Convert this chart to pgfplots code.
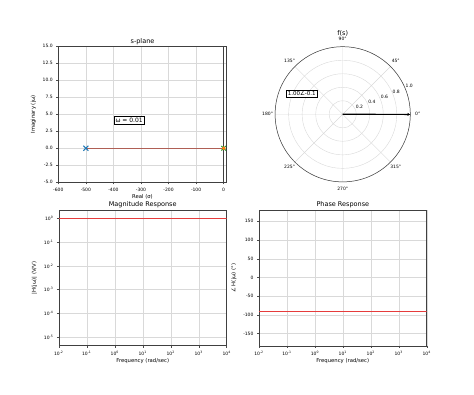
\documentclass[border=0pt]{standalone}
\usepackage{fontspec}
\setmainfont{DejaVu Sans}
\usepackage{pgfplots}
\pgfplotsset{compat=1.18}
\usepgfplotslibrary{polar}
\usetikzlibrary{arrows.meta}

\definecolor{tabblue}{HTML}{1F77B4}
\definecolor{taborange}{HTML}{FF7F0E}
\definecolor{tabgreen}{HTML}{2CA02C}
\definecolor{pzline}{RGB}{175,95,85}
\definecolor{hred}{RGB}{230,60,60}

\pgfplotsset{
  common/.style={
    scale only axis, anchor=south west,
    /pgf/number format/assume math mode=true,
    tick label style={font=\fontsize{4.5}{5}\selectfont},
    label style={font=\fontsize{5.3}{6}\selectfont},
    xlabel style={yshift=4pt},
    title style={font=\fontsize{6.5}{7}\selectfont, at={(0.5,1)}, anchor=south, inner sep=1pt, yshift=-5.5pt},
    axis line style={black!75, line width=0.5pt},
    grid=major, major grid style={gray!30, line width=0.4pt},
    tick align=outside, tick pos=left, major tick length=2pt, minor tick length=1pt,
    every tick/.style={black!70, line width=0.4pt},
  },
  freqx/.style={
    xmin=1e-2, xmax=1e4,
    xtick={1e-2,1e-1,1,1e1,1e2,1e3,1e4},
    xticklabel={10\textsuperscript{\pgfmathprintnumber[fixed,precision=0]{\tick}}},
    xlabel={Frequency (rad/sec)},
  }
}

\begin{document}
\begin{tikzpicture}
\useasboundingbox (0,0) rectangle (474pt,395pt);

% ---------------- s-plane ----------------
\begin{axis}[common, at={(58.3pt,212.7pt)}, width=168.4pt, height=136.2pt,
  xmin=-600, xmax=11, ymin=-5, ymax=15,
  xtick={-600,-500,-400,-300,-200,-100,0},
  ytick={-5,-2.5,0,2.5,5,7.5,10,12.5,15},
  yticklabel style={/pgf/number format/.cd, fixed, fixed zerofill, precision=1},
  title={s-plane}, xlabel={Real (σ)}, ylabel={Imaginary (jω)}, clip=false]
  \addplot[black!75, line width=0.6pt] coordinates {(0,-5) (0,15)};
  \addplot[pzline, line width=1pt] coordinates {(-500,0) (0,0)};
  \addplot[only marks, mark=x, mark size=3.5pt, tabblue, line width=1pt] coordinates {(-500,0)};
  \addplot[only marks, mark=x, mark size=3.2pt, tabgreen, line width=1.1pt] coordinates {(0,0)};
  \addplot[only marks, mark=*, mark size=1.6pt, taborange] coordinates {(0,0)};
  \node[draw=black, fill=white, inner sep=1.5pt, font=\fontsize{6}{7}\selectfont] at (axis cs:-343,4.1) {ω = 0.01};
\end{axis}

% ---------------- polar ----------------
\begin{polaraxis}[at={(342.7pt,280.7pt)}, anchor=origin, scale only axis,
  width=135.2pt, height=135.2pt, ymin=0, ymax=1,
  xtick={0,45,90,135,180,225,270,315}, xticklabels={},
  ytick={0.2,0.4,0.6,0.8,1.0}, yticklabels={},
  major tick length=0pt,
  axis line style={black!75, line width=0.5pt},
  grid=major, major grid style={gray!30, line width=0.4pt},
  clip=false]
  \addplot[black, line width=1.2pt, -{Stealth[length=3pt,width=3pt]}] coordinates {(0,0) (-0.1,1.0)};
  \begin{scope}[font=\fontsize{4.5}{5}\selectfont]
  \node at (axis cs:0,1.11) {0°};
  \node at (axis cs:45,1.11) {45°};
  \node at (axis cs:90,1.11) {90°};
  \node at (axis cs:135,1.11) {135°};
  \node at (axis cs:180,1.11) {180°};
  \node at (axis cs:225,1.11) {225°};
  \node at (axis cs:270,1.11) {270°};
  \node at (axis cs:315,1.11) {315°};
  \node at (axis cs:23,0.27) {0.2};
  \node at (axis cs:23,0.47) {0.4};
  \node at (axis cs:23,0.67) {0.6};
  \node at (axis cs:23,0.86) {0.8};
  \node at (axis cs:23,1.07) {1.0};
  \end{scope}
  \node[font=\fontsize{6.5}{7}\selectfont] at (axis cs:90,1.19) {f(s)};
  \node[draw=black, fill=white, inner sep=1.5pt, font=\fontsize{5.5}{6}\selectfont] at (axis cs:153,0.68) {1.00∠-0.1};
\end{polaraxis}

% ---------------- magnitude ----------------
\begin{axis}[common, xmode=log, ymode=log, log basis x=10, log basis y=10, freqx,
  at={(58.8pt,49.3pt)}, width=167.9pt, height=135.7pt,
  ymin=4.3e-6, ymax=2.29,
  ytick={1e-5,1e-4,1e-3,1e-2,1e-1,1},
  yticklabel={10\textsuperscript{\pgfmathprintnumber[fixed,precision=0]{\tick}}},
  title={Magnitude Response}, ylabel={|H(jω)| (V/V)}]
  \addplot[hred, line width=0.9pt] coordinates {(0.01,1) (10000,1)};
\end{axis}

% ---------------- phase ----------------
\begin{axis}[common, xmode=log, log basis x=10, freqx,
  at={(259pt,49pt)}, width=167.7pt, height=136pt,
  ymin=-183, ymax=180, ytick={-150,-100,-50,0,50,100,150},
  title={Phase Response}, ylabel={∠ H(jω) (°)}]
  \addplot[draw=hred, no markers, line width=0.9pt] coordinates {(0.01,-90) (0.1,-90) (1,-90) (10,-90) (100,-90) (1000,-90) (10000,-90)};
\end{axis}
\end{tikzpicture}
\end{document}
